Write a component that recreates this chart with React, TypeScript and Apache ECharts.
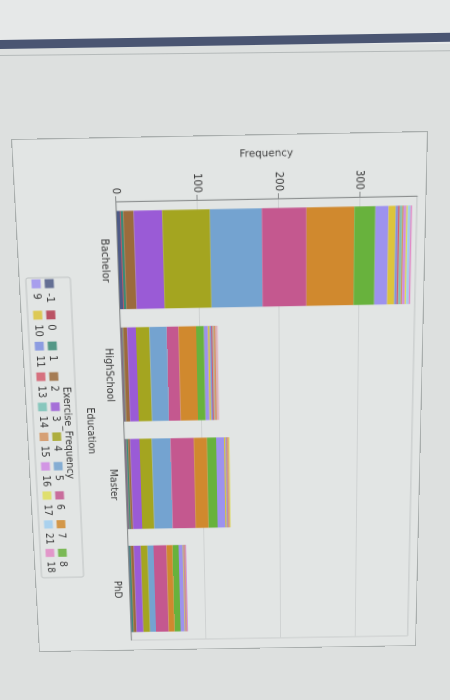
import React, { useEffect, useRef } from 'react';
import * as echarts from 'echarts';

const educations = ['Bachelor', 'HighSchool', 'Master', 'PhD'];
const exerciseLevels = ['-1', '0', '1', '2', '3', '4', '5', '6', '7', '8', '9', '10', '11', '13', '14', '15', '16', '17', '21', '18'];
// counts per exercise level (same order as exerciseLevels)
const bachelorCounts = [4, 1, 3, 13, 35, 59, 64, 55, 59, 26, 16, 9, 3, 2, 3, 2, 3, 2, 3, 2];
const highSchoolCounts = [1, 1, 1, 5, 11, 17, 22, 15, 22, 10, 5, 2, 2, 2, 1, 2, 1, 1, 0, 1];
const masterCounts = [1, 1, 2, 3, 12, 16, 24, 30, 17, 12, 10, 2, 1, 1, 0, 2, 0, 1, 0, 0];
const phdCounts = [1, 0, 2, 4, 9, 9, 8, 17, 8, 8, 5, 1, 1, 1, 0, 1, 1, 0, 0, 0];
const levelColors = [
  '#4d5a86', '#b3394d', '#3b8b77', '#9b6b3c', '#9a5bd6', '#a4a520', '#74a3d0', '#c4588f', '#d0892e', '#68b23d',
  '#9d92ee', '#dcc43c', '#7d8fe0', '#d35d6d', '#78c2b6', '#d39462', '#cf88e4', '#dede5a', '#9fcef0', '#e28ac6'
];
const frequencyMax = 370;
const frequencyStep = 100;

// chart is drawn upright, then mapped onto the photographed (rotated, tilted) screen
const W = 540;
const H = 400;
const screenCorners = [[428, 131], [416, 646], [39, 652], [11, 139]];

function quadTransform(w: number, h: number, q: number[][]) {
  const [[x0, y0], [x1, y1], [x2, y2], [x3, y3]] = q;
  const dx1 = x1 - x2, dx2 = x3 - x2, dx3 = x0 - x1 + x2 - x3;
  const dy1 = y1 - y2, dy2 = y3 - y2, dy3 = y0 - y1 + y2 - y3;
  const den = dx1 * dy2 - dx2 * dy1;
  const g = (dx3 * dy2 - dx2 * dy3) / den;
  const k = (dx1 * dy3 - dx3 * dy1) / den;
  const a = x1 - x0 + g * x1, b = x3 - x0 + k * x3;
  const d = y1 - y0 + g * y1, e = y3 - y0 + k * y3;
  return `matrix3d(${a / w},${d / w},0,${g / w},${b / h},${e / h},0,${k / h},0,0,1,0,${x0},${y0},0,1)`;
}

const App: React.FC = () => {
  const ref = useRef<HTMLDivElement>(null);

  useEffect(() => {
    if (!ref.current) return;
    const chart = echarts.init(ref.current, undefined, { renderer: 'svg' });

    const byEducation = [bachelorCounts, highSchoolCounts, masterCounts, phdCounts];
    const labelColor = '#3a3a3a';
    const lineColor = '#8c8f8f';

    const legends = exerciseLevels.map((lvl, i) => ({
      data: [lvl],
      left: 137.5 + (i % 10) * 31.7,
      top: i < 10 ? 365 : 378,
      orient: 'horizontal',
      padding: 0,
      itemWidth: 9,
      itemHeight: 9,
      icon: 'rect',
      selectedMode: false,
      itemStyle: { opacity: 0.85 },
      textStyle: { fontSize: 10, color: labelColor, fontFamily: 'DejaVu Sans' }
    }));

    chart.setOption({
      animation: false,
      textStyle: { fontFamily: 'DejaVu Sans' },
      grid: { left: 62, right: 12, top: 9, bottom: 99, show: true, borderColor: '#c9cccc', borderWidth: 1 },
      xAxis: {
        type: 'category',
        data: educations,
        name: 'Education',
        nameLocation: 'middle',
        nameGap: 29,
        nameTextStyle: { fontSize: 10, color: labelColor },
        axisLine: { lineStyle: { color: lineColor } },
        axisTick: { alignWithLabel: true, length: 5, lineStyle: { color: lineColor } },
        axisLabel: { fontSize: 10, color: labelColor, margin: 8 }
      },
      yAxis: {
        type: 'value',
        min: 0,
        max: frequencyMax,
        interval: frequencyStep,
        name: 'Frequency',
        nameLocation: 'middle',
        nameGap: 39,
        nameTextStyle: { fontSize: 10, color: labelColor },
        axisLine: { show: true, lineStyle: { color: lineColor } },
        axisTick: { show: true, length: 5, lineStyle: { color: lineColor } },
        axisLabel: { fontSize: 10, color: labelColor, margin: 7, showMaxLabel: false },
        splitLine: { lineStyle: { color: '#cfd2d2' } }
      },
      legend: legends,
      graphic: [
        {
          type: 'rect',
          shape: { x: 136, y: 349, width: 319, height: 44, r: 2 },
          style: { fill: 'none', stroke: '#bfc3c3', lineWidth: 1 }
        },
        {
          type: 'text',
          x: 297,
          y: 353,
          style: {
            text: 'Exercise_Frequency',
            fontSize: 10,
            fontFamily: 'DejaVu Sans',
            fill: labelColor,
            align: 'center',
            verticalAlign: 'top'
          }
        }
      ],
      series: exerciseLevels.map((lvl, i) => ({
        name: lvl,
        type: 'bar',
        stack: 'total',
        barCategoryGap: '16%',
        itemStyle: { color: levelColors[i] },
        data: byEducation.map((counts) => counts[i])
      }))
    });

    return () => {
      chart.dispose();
    };
  }, []);

  return (
    <div style={{ position: 'fixed', left: 0, top: 0, width: 450, height: 700, overflow: 'hidden', background: '#dde0df' }}>
      <div style={{ position: 'absolute', left: 0, top: 0, width: 450, height: 44, background: '#e6e8e8' }} />
      <div
        style={{
          position: 'absolute', left: -5, top: 40, width: 470, height: 8.5, background: '#4a5572',
          transform: 'rotate(-0.9deg)', transformOrigin: 'left top'
        }}
      />
      <div
        style={{
          position: 'absolute', left: -5, top: 55, width: 470, height: 1, background: '#b5baba',
          transform: 'rotate(-0.6deg)', transformOrigin: 'left top'
        }}
      />
      <div
        style={{
          position: 'absolute', left: 0, top: 0, width: W, height: H,
          transformOrigin: '0 0', transform: quadTransform(W, H, screenCorners),
          background: '#e2e5e4', boxShadow: 'inset 0 0 0 1px #a9aead'
        }}
      >
        <div ref={ref} style={{ width: W, height: H }} />
      </div>
    </div>
  );
};

export default App;
